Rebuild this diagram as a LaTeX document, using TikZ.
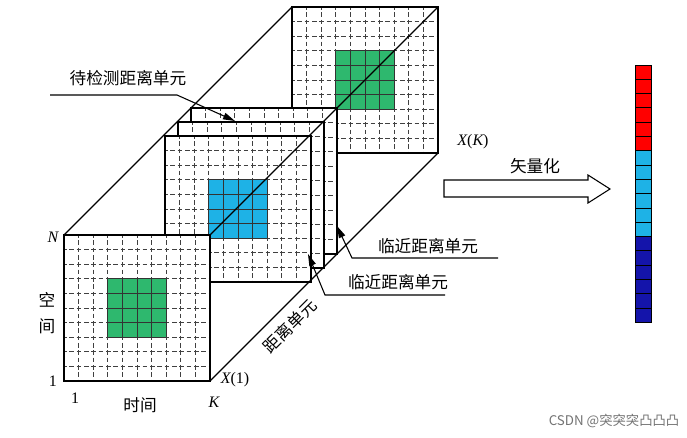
\documentclass[tikz,border=0pt]{standalone}
\usepackage{fontspec}
\setmainfont{Liberation Serif}
\newfontfamily\cjk{Noto Sans CJK SC}
\usetikzlibrary{arrows.meta}
\tikzset{
 gridl/.style={line width=0.5pt, black!75, dash pattern=on 3.5pt off 2pt, dash phase=1.5pt},
 blockl/.style={line width=0.5pt, black!80},
 edge/.style={line width=0.9pt, black},
 lab/.style={font=\cjk\fontsize{12.5}{14}\selectfont, inner sep=1pt},
 mlab/.style={font=\fontsize{12}{14}\selectfont, inner sep=1pt},
 lead/.style={line width=0.8pt, draw=black, -{Triangle[length=9pt,width=5pt]}},
 vcell/.style={draw=black, line width=0.6pt}
}
\newcommand\gsq[3]{%
 \fill[white] (#1,#2) rectangle ++(146,146);
 \fill[#3] (#1+43.8,#2+43.8) rectangle ++(58.4,58.4);
 \foreach \i in {1,...,9} {\draw[gridl] (#1+\i*14.6,#2) -- ++(0,146); \draw[gridl] (#1,#2+\i*14.6) -- ++(146,0);}
 \foreach \i in {0,...,4} {\draw[blockl] (#1+43.8+\i*14.6,#2+43.8) -- ++(0,58.4); \draw[blockl] (#1+43.8,#2+43.8+\i*14.6) -- ++(58.4,0);}
 \draw[line width=0.9pt] (#1,#2) rectangle ++(146,146);}
\definecolor{gr}{RGB}{46,184,110}
\definecolor{bl}{RGB}{30,178,230}
\definecolor{dk}{RGB}{20,20,170}
\begin{document}
\begin{tikzpicture}[x=0.75pt,y=-0.75pt]
\useasboundingbox (0,0) rectangle (687,438);
\gsq{292}{7}{gr}
\gsq{191}{108}{white}
\gsq{178}{122}{white}
\gsq{165}{136}{bl}
\gsq{64}{235}{gr}
\coordinate (f1) at (64,235); \coordinate (b1) at (292,7);
\coordinate (f2) at (210,235); \coordinate (b2) at (438,7);
\coordinate (f3) at (210,381); \coordinate (b3) at (438,153);
\draw[edge] (f1) -- (b1);
\draw[edge] (f2) -- (b2);
\draw[edge] (f3) -- (b3);
\node[mlab,font=\itshape\fontsize{12}{14}\selectfont] (N) at (53,237) {N};
\node[mlab] (one1) at (53,381) {1};
\node[mlab] (one2) at (75,398) {1};
\node[mlab,font=\itshape\fontsize{12}{14}\selectfont] (K) at (214,402) {K};
\node[mlab] (X1) at (235,380) {\itshape X\upshape(1)};
\node[mlab] (XK) at (473,142) {\itshape X\upshape(\itshape K\upshape)};
\node[lab] (sj) at (140,405) {时间};
\node[lab] (k1) at (47,300) {空};
\node[lab] (k2) at (47,326) {间};
\node[lab,rotate=45] (jl) at (290,326) {距离单元};
\node[lab] (dj) at (128,78) {待检测距离单元};
\coordinate (t0) at (235,121);
\draw[lead] (50,95) -- (177,95) -- (t0);
\node[lab] (lj1) at (428,246) {临近距离单元};
\coordinate (t1) at (337,226);
\draw[lead] (498,258) -- (352,258) -- (t1);
\node[lab] (lj2) at (398,282) {临近距离单元};
\coordinate (t2) at (308,254);
\draw[lead] (445,295) -- (325,295) -- (t2);
\draw[line width=0.8pt, fill=white] (444,180) -- (588,180) -- (588,175) -- (610,189) -- (588,203) -- (588,197) -- (444,197) -- cycle;
\node[lab] (vl) at (535,166) {矢量化};
\foreach \i in {0,...,5} {\draw[vcell, fill=red] (635,65+\i*14.3) rectangle ++(16,14.3);}
\foreach \i in {6,...,11} {\draw[vcell, fill=bl] (635,65+\i*14.3) rectangle ++(16,14.3);}
\foreach \i in {12,...,17} {\draw[vcell, fill=dk] (635,65+\i*14.3) rectangle ++(16,14.3);}
\node[font=\cjk\fontsize{10}{12}\selectfont, text=black!55, anchor=east] (wm) at (684,421) {CSDN @突突突凸凸凸};
\end{tikzpicture}
\end{document}
